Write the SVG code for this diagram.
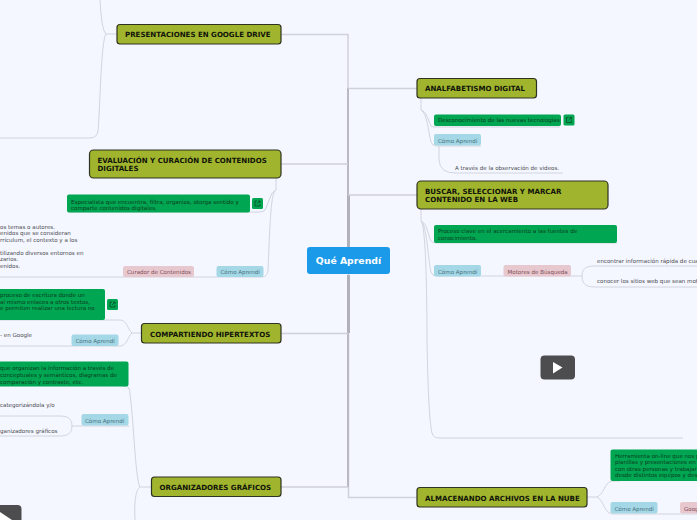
<svg xmlns="http://www.w3.org/2000/svg" width="697" height="520" viewBox="0 0 697 520">
<style>
text{font-family:"DejaVu Sans","Liberation Sans",sans-serif}
.t{fill:#a0b52d;stroke:#2e3220;stroke-width:1.2}
.tt{font-size:7.05px;font-weight:700;fill:#11130a}
.g{fill:#00a651}
.gt{font-size:5.55px;fill:#0b3a20}
.b{fill:#a5d8e6}
.bt{font-size:5.55px;fill:#46707f}
.r{fill:#e8c8cf}
.rt{font-size:5.55px;fill:#7e4a55}
.p{font-size:5.55px;fill:#4a4a50}
.c{fill:none;stroke:#d2d4de;stroke-width:1}
.c2{fill:none;stroke:#cfd0d8;stroke-width:1.300}
.ic{fill:none;stroke:#0b4a28;stroke-width:.8}
</style>
<rect width="697" height="520" fill="#f4f7ff"/>
<g id="connectors">
<path d="M348 88V34.500H281M348.500 274V497.500H417" fill="none" stroke="#d0d1d9" stroke-width="1.500"/>
<path d="M348 247V88M348 275V487" fill="none" stroke="#b8b9c1" stroke-width="2"/>
<path d="M348.500 247V195M348.500 275V333" fill="none" stroke="#b0b1b9" stroke-width="3"/>
<path d="M348 164H281M348 333.500H281M348 487H281M348 88.500H417M348 195H417" class="c2"/>
<path d="M117 34H106C102 30 101 15 100 0M106 34C101 40 100 110 98 131Q97 138 90 138H0" class="c"/>
<path d="M276 178V190Q271 192 270 198L266 208Q265 212 260 212H68" class="c"/>
<path d="M276 190C271 192 270 220 268 271Q267 277 262 277H0" class="c"/>
<path d="M141 333H132C128 330 127 320 120 320H0M132 333C128 336 127 346 120 346H0" class="c"/>
<path d="M151 487H140C135 480 133 405 129 388Q128 386 122 386M140 487C136 490 134 500 135 520M129 426H72M72 426C72 416 64 416 58 416H0M72 426C72 436 64 436 58 436H0" class="c"/>
<path d="M421 98V110C427 112 428 120 431 126Q432 127 437 127H560M421 110C427 113 428 130 431 142Q432 146 437 146H481M439 146V160Q440 173 455 173H563" class="c"/>
<path d="M421 209V221C427 223 428 235 431 241Q432 243 437 243H617M421 221C427 225 428 260 431 272Q432 276 437 276H582M421 221C426 225 427 300 427 340C428 400 430 425 432 433Q433 438 440 438H683M582 276C582 266 590 266 597 266H697M582 276C582 287 590 287 597 287H697" class="c"/>
<path d="M587 497H597C604 494 604 484 611 481H620M597 497C604 500 604 514 613 514H697" class="c"/>
</g>
<g id="center"><rect x="307" y="247" width="83" height="27" rx="3" fill="#1b9aea"/><text x="348.500" y="264" text-anchor="middle" font-size="9.300" font-weight="700" fill="#fff">Qué Aprendí</text></g>
<g id="n-presentaciones"><rect x="117" y="24.500" width="164" height="19.500" rx="3" class="t"/><text x="125" y="37" class="tt">PRESENTACIONES EN GOOGLE DRIVE</text></g>
<g id="n-evaluacion"><rect x="89.500" y="150" width="191.500" height="28" rx="4" class="t"/><text x="97.500" y="163" class="tt">EVALUACIÓN Y CURACIÓN DE CONTENIDOS</text><text x="97.500" y="171" class="tt">DIGITALES</text>
<rect x="67" y="194.500" width="183" height="18" rx="2" class="g"/><text x="71" y="203.500" class="gt">Especialista que encuentra, filtra, organiza, otorga sentido y</text><text x="71" y="209.500" class="gt">comparte contenidos digitales.</text>
<rect x="252" y="198" width="11" height="11" rx="1.500" class="g"/><path d="M255 201h2M255 201v5h5v-2M258 201h2v2M260 201l-3 3" class="ic"/>
<text x="0" y="229" class="p">os temas o autores.</text><text x="0" y="235" class="p">enidos que se consideran</text><text x="0" y="241.500" class="p">rrículum, el contexto y a los</text><text x="0" y="255" class="p">tilizando diversos entornos en</text><text x="0" y="261" class="p">zarios.</text><text x="0" y="267.500" class="p">enidos.</text>
<rect x="123" y="266" width="71" height="11" rx="2" class="r"/><text x="127" y="274" class="rt">Curador de Contenidos</text>
<rect x="216.500" y="266" width="47" height="11" rx="2" class="b"/><text x="220.500" y="274" class="bt">Cómo Aprendí</text></g>
<g id="n-compartiendo"><rect x="141.500" y="323.500" width="139.500" height="19.500" rx="3" class="t"/><text x="150" y="336.500" class="tt">COMPARTIENDO HIPERTEXTOS</text>
<rect x="-5" y="289" width="110" height="31" rx="2" class="g"/><text x="0" y="297" class="gt"> proceso de escritura donde un</text><text x="0" y="304" class="gt"> al mismo enlaces a otros textos,</text><text x="0" y="310" class="gt">e permiten realizar una lectura no</text>
<rect x="107" y="299" width="11" height="11" rx="1.500" class="g"/><path d="M110 302h2M110 302v5h5v-2M113 302h2v2M115 302l-3 3" class="ic"/>
<text x="0" y="336.500" class="p">- en Google</text>
<rect x="71.500" y="334.500" width="47" height="11.500" rx="2" class="b"/><text x="75.500" y="343" class="bt">Cómo Aprendí</text></g>
<g id="n-organizadores"><rect x="151.500" y="477" width="129.500" height="19.500" rx="3" class="t"/><text x="159.500" y="490" class="tt">ORGANIZADORES GRÁFICOS</text>
<rect x="-5" y="361.500" width="133.500" height="25" rx="2" class="g"/><text x="0" y="370" class="gt">que organizan la información a través de</text><text x="0" y="376.500" class="gt"> conceptuales y semánticos, diagramas de</text><text x="0" y="383.500" class="gt">comparación y contraste, etc.</text>
<text x="0" y="406.500" class="p">categorizándola y/o</text><text x="0" y="432.500" class="p">ganizadores gráficos</text>
<rect x="81.500" y="414" width="47" height="11.500" rx="2" class="b"/><text x="85" y="422.500" class="bt">Cómo Aprendí</text></g>
<g id="video-left"><rect x="-13" y="505" width="34.500" height="24" rx="4" fill="#4d4d4f"/><path d="M0 512L12 520L0 528Z" fill="#fff"/></g>
<g id="n-analfabetismo"><rect x="417" y="78.500" width="119.500" height="19.500" rx="3" class="t"/><text x="425" y="91" class="tt">ANALFABETISMO DIGITAL</text>
<rect x="434" y="114.500" width="127" height="11.500" rx="2" class="g"/><text x="438" y="122" class="gt">Desconocimiento de las nuevas tecnologías</text>
<rect x="563.500" y="114.500" width="11" height="11" rx="1.500" class="g"/><path d="M566.500 117.500h2M566.500 117.500v5h5v-2M569.500 117.500h2v2M571.500 117.500l-3 3" class="ic"/>
<rect x="434" y="134" width="47" height="11.500" rx="2" class="b"/><text x="438" y="142.500" class="bt">Cómo Aprendí</text>
<text x="455" y="169.500" class="p">A través de la observación de videos.</text></g>
<g id="n-buscar"><rect x="417" y="181" width="191" height="28" rx="4" class="t"/><text x="425" y="194" class="tt">BUSCAR, SELECCIONAR Y MARCAR</text><text x="425" y="202" class="tt">CONTENIDO EN LA WEB</text>
<rect x="434" y="225" width="183" height="18" rx="2" class="g"/><text x="438" y="233" class="gt">Proceso clave en el acercamiento a las fuentes de</text><text x="438" y="240" class="gt">conocimiento.</text>
<rect x="434" y="265" width="47" height="11.500" rx="2" class="b"/><text x="438" y="273.500" class="bt">Cómo Aprendí</text>
<rect x="503.500" y="265" width="67.500" height="11.500" rx="2" class="r"/><text x="507.500" y="273.500" class="rt">Motores de Búsqueda</text>
<text x="597" y="263" class="p">encontrar información rápida de cua</text><text x="597" y="283" class="p">conocer los sitios web que sean mot</text></g>
<g id="video-right"><rect x="540.500" y="355.500" width="34.500" height="24" rx="4" fill="#4d4d4f"/><path d="M553 362L562.500 367.500L553 373.500Z" fill="#fff"/></g>
<g id="n-almacenando"><rect x="417" y="487.500" width="170" height="19.500" rx="3" class="t"/><text x="425" y="500.500" class="tt">ALMACENANDO ARCHIVOS EN LA NUBE</text>
<rect x="610.500" y="449.500" width="92" height="31.500" rx="2" class="g"/><text x="615" y="458" class="gt">Herramienta on-line que nos p</text><text x="615" y="464" class="gt">planillas y presentaciones en l</text><text x="615" y="470.500" class="gt">con otras personas y trabajar</text><text x="615" y="477" class="gt">desde distintos equipos y des</text>
<rect x="610.500" y="502" width="47" height="11.500" rx="2" class="b"/><text x="614.500" y="510.500" class="bt">Cómo Aprendí</text>
<rect x="680" y="502" width="25" height="11.500" rx="2" class="r"/><text x="684" y="510.500" class="rt">Goog</text></g>
</svg>
